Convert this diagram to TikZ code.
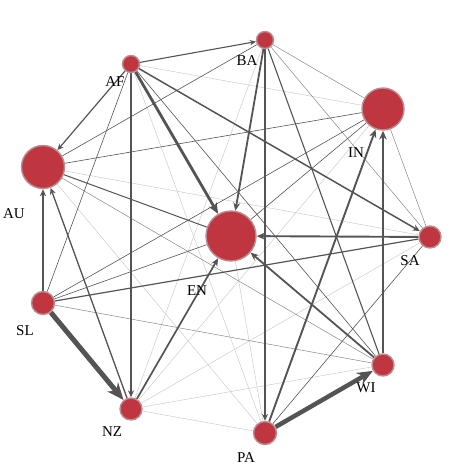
\documentclass[tikz,border=0pt]{standalone}
\usepackage{fontspec}
\setmainfont{Liberation Serif}
\usetikzlibrary{arrows.meta, backgrounds}
\definecolor{teamred}{RGB}{192,54,64}
\definecolor{halo}{RGB}{186,142,144}
\definecolor{linkdark}{RGB}{84,84,84}
\definecolor{linkgray}{RGB}{135,135,135}
\definecolor{linklight}{RGB}{205,205,205}

\begin{document}
\begin{tikzpicture}[
  x=1pt, y=-1pt,
  team/.style={circle, draw=halo, line width=1.4pt, fill=teamred, inner sep=0pt},
  lbl/.style={font=\fontsize{15}{17}\selectfont, inner sep=0pt},
  link/.style={draw=linkdark, line width=#1},
  arr/.style={link=#1, -{Stealth[length=3pt 2.8, width=3pt 2.2]}},
  darklink/.style={draw=linkdark, line width=0.6pt},
  greylink/.style={draw=linkgray, line width=0.5pt},
  faintlink/.style={draw=linklight, line width=0.5pt}
]
\useasboundingbox (0,0) rectangle (474,474);

% Teams
\node[team, minimum size=17pt] (AF) at (131,64) {};
\node[team, minimum size=17pt] (BA) at (265,40) {};
\node[team, minimum size=42pt] (IN) at (383,109) {};
\node[team, minimum size=43pt] (AU) at (43,167) {};
\node[team, minimum size=50pt] (EN) at (231,236) {};
\node[team, minimum size=22pt] (SA) at (430,237) {};
\node[team, minimum size=23pt] (SL) at (43,303) {};
\node[team, minimum size=22pt] (NZ) at (131,409) {};
\node[team, minimum size=23pt] (PA) at (265,433) {};
\node[team, minimum size=22pt] (WI) at (383,365) {};

% Labels
\node[lbl] (lAF) at (115,82) {AF};
\node[lbl] (lBA) at (247,61) {BA};
\node[lbl] (lIN) at (356,153) {IN};
\node[lbl] (lAU) at (14,214) {AU};
\node[lbl] (lEN) at (197,291) {EN};
\node[lbl] (lSA) at (410,261) {SA};
\node[lbl] (lSL) at (25,331) {SL};
\node[lbl] (lNZ) at (112,432) {NZ};
\node[lbl] (lPA) at (246,458) {PA};
\node[lbl] (lWI) at (366,388) {WI};

\begin{scope}[on background layer]
% faint links
\draw[faintlink] (AF) -- (PA);
\draw[faintlink] (AF) -- (IN);
\draw[faintlink] (AU) -- (SA);
\draw[faintlink] (AU) -- (PA);
\draw[faintlink] (NZ) -- (SA);
\draw[faintlink] (NZ) -- (WI);
\draw[faintlink] (NZ) -- (PA);
\draw[faintlink] (NZ) -- (IN);
\draw[faintlink] (EN) -- (PA);
\draw[faintlink] (BA) -- (NZ);
% grey links
\draw[greylink] (BA) -- (IN);
\draw[greylink] (BA) -- (SA);
\draw[greylink] (IN) -- (SA);
\draw[greylink] (AU) -- (WI);
\draw[greylink] (SL) -- (WI);
% dark thin links
\draw[darklink] (AF) -- (WI);
\draw[darklink] (AF) -- (SL);
\draw[darklink] (BA) -- (AU);
\draw[darklink] (AU) -- (IN);
\draw[darklink] (SL) -- (IN);
\draw[darklink] (SL) -- (EN);
\draw[darklink] (IN) -- (EN);
\draw[darklink] (SA) -- (PA);
\draw[link=1pt] (AU) -- (EN);
\draw[link=1.2pt] (SL) -- (SA);
\draw[link=1.1pt] (BA) -- (WI);
% arrows
\draw[arr=1.2pt] (AF) -- (AU);
\draw[arr=2.8pt] (AF) -- (EN);
\draw[arr=1.5pt] (AF) -- (SA);
\draw[arr=1.1pt] (AF) -- (BA);
\draw[arr=1.4pt] (AF) -- (NZ);
\draw[arr=1.8pt] (BA) -- (EN);
\draw[arr=1.4pt] (BA) -- (PA);
\draw[arr=1.5pt] (SL) -- (AU);
\draw[arr=5pt] (SL) -- (NZ);
\draw[arr=1.3pt] (NZ) -- (AU);
\draw[arr=1.7pt] (NZ) -- (EN);
\draw[arr=1.9pt] (SA) -- (EN);
\draw[arr=1.8pt] (WI) -- (EN);
\draw[arr=1.9pt] (PA) -- (IN);
\draw[arr=2.1pt] (WI) -- (IN);
\draw[arr=4.5pt] (PA) -- (WI);
\end{scope}
\end{tikzpicture}
\end{document}
